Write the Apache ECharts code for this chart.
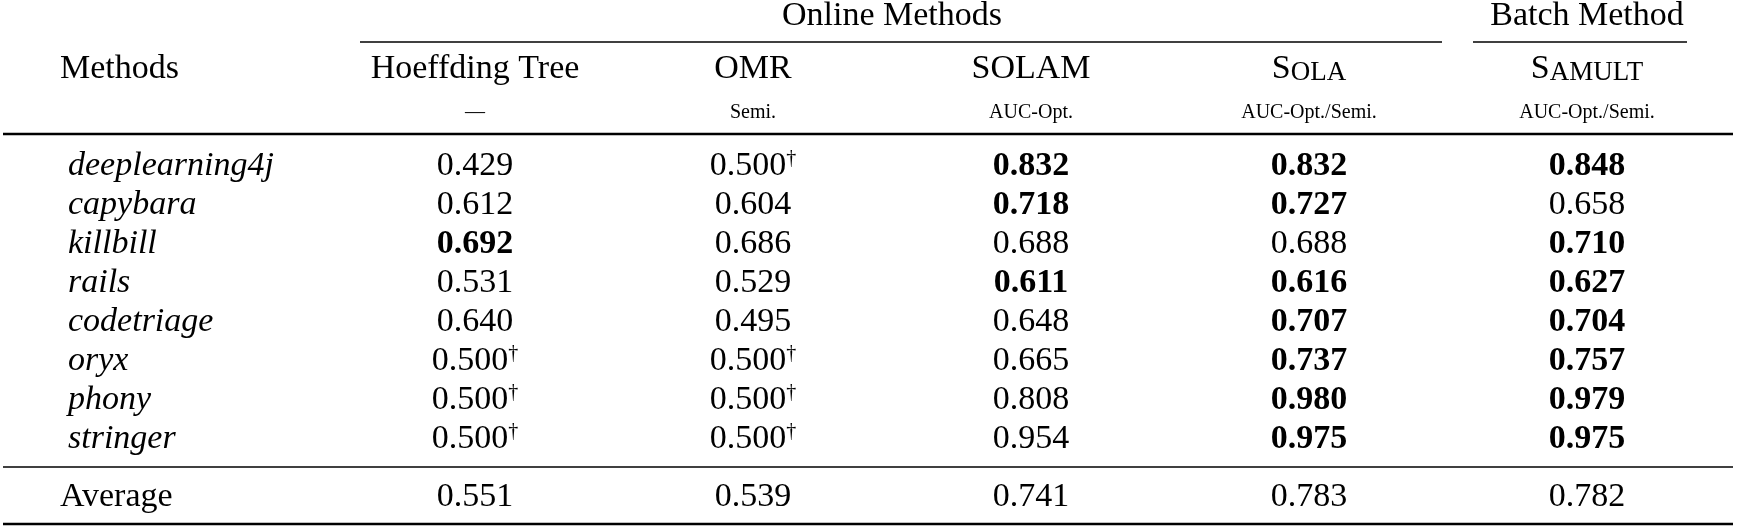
<!DOCTYPE html>
<html><head><meta charset="utf-8">
<script src="https://cdn.jsdelivr.net/npm/echarts@6.0.0/dist/echarts.min.js"></script>
<style>html,body{margin:0;padding:0;background:#fff}#c{width:1738px;height:528px}</style>
</head><body><div id="c"></div>
<script>
// ---- data ----
const datasets = ['deeplearning4j','capybara','killbill','rails','codetriage','oryx','phony','stringer'];
const methods = ['Hoeffding Tree','OMR','SOLAM','SOLA','SAMULT'];
const methodSmallCaps = [false,false,false,true,true];
const methodSub = ['\u2014','Semi.','AUC-Opt.','AUC-Opt./Semi.','AUC-Opt./Semi.'];
const groupLabels = ['Online Methods','Batch Method'];
const rowHeader = 'Methods';
const averageLabel = 'Average';

const hoeffding = [0.429,0.612,0.692,0.531,0.640,0.500,0.500,0.500];
const omr       = [0.500,0.604,0.686,0.529,0.495,0.500,0.500,0.500];
const solam     = [0.832,0.718,0.688,0.611,0.648,0.665,0.808,0.954];
const sola      = [0.832,0.727,0.688,0.616,0.707,0.737,0.980,0.975];
const samult    = [0.848,0.658,0.710,0.627,0.704,0.757,0.979,0.975];
const averages  = [0.551,0.539,0.741,0.783,0.782];

const boldHoeffding = [0,0,1,0,0,0,0,0];
const boldOmr       = [0,0,0,0,0,0,0,0];
const boldSolam     = [1,1,0,1,0,0,0,0];
const boldSola      = [1,1,0,1,1,1,1,1];
const boldSamult    = [1,0,1,1,1,1,1,1];
const daggerHoeffding = [0,0,0,0,0,1,1,1];
const daggerOmr       = [1,0,0,0,0,1,1,1];
const daggerNone      = [0,0,0,0,0,0,0,0];

// ---- build ----
const FONT = "'Liberation Serif','Times New Roman',serif";
const FS = 34;
const columns = [
  {vals: hoeffding, bold: boldHoeffding, dag: daggerHoeffding},
  {vals: omr, bold: boldOmr, dag: daggerOmr},
  {vals: solam, bold: boldSolam, dag: daggerNone},
  {vals: sola, bold: boldSola, dag: daggerNone},
  {vals: samult, bold: boldSamult, dag: daggerNone}
];
const cellRich = {
  n: {fontFamily: FONT, fontSize: FS, color: '#000'},
  b: {fontFamily: FONT, fontSize: FS, fontWeight: 'bold', color: '#000'},
  d: {fontFamily: FONT, fontSize: 20, color: '#000', verticalAlign: 'top'}
};
function cellText(v, bold, dag) {
  const s = v.toFixed(3);
  return '{' + (bold ? 'b' : 'n') + '|' + s + '}' + (dag ? '{d|\u2020}' : '');
}
const labelBase = {
  show: true, position: 'inside', color: '#000', opacity: 1,
  textBorderWidth: 0, textShadowBlur: 0
};
const series = [];
columns.forEach((col, ci) => {
  series.push({
    type: 'scatter', xAxisIndex: 0, yAxisIndex: 0,
    symbolSize: 1, itemStyle: {color: '#fff', opacity: 1},
    silent: true,
    data: datasets.map((d, ri) => [methods[ci], d, col.vals[ri]]),
    label: Object.assign({}, labelBase, {
      formatter: p => cellText(col.vals[p.dataIndex], col.bold[p.dataIndex], col.dag[p.dataIndex]),
      rich: cellRich
    })
  });
});
series.push({
  type: 'scatter', xAxisIndex: 2, yAxisIndex: 1,
  symbolSize: 1, itemStyle: {color: '#fff', opacity: 1},
  silent: true,
  data: methods.map((m, ci) => [m, averageLabel, averages[ci]]),
  label: Object.assign({}, labelBase, {
    formatter: p => cellText(averages[p.dataIndex], 0, 0),
    rich: cellRich
  })
});

const gridLeft = 336, gridWidth = 1390;
const option = {
  animation: false,
  backgroundColor: '#fff',
  grid: [
    {left: gridLeft, width: gridWidth, top: 146.5, height: 312, outerBoundsMode: 'none'},
    {left: gridLeft, width: gridWidth, top: 477.5, height: 39, outerBoundsMode: 'none'}
  ],
  xAxis: [
    {type: 'category', gridIndex: 0, data: methods, position: 'top',
     axisLine: {show: false}, axisTick: {show: false}, splitLine: {show: false},
     axisLabel: {interval: 0, margin: 77, verticalAlign: 'middle',
       formatter: (v, i) => methodSmallCaps[i] ? '{n|' + v[0] + '}{sc|' + v.slice(1) + '}' : '{n|' + v + '}',
       rich: {
         n: {fontFamily: FONT, fontSize: FS, color: '#000'},
         sc: {fontFamily: FONT, fontSize: 27, color: '#000', verticalAlign: 'bottom'}
       }}},
    {type: 'category', gridIndex: 0, data: methodSub, position: 'top',
     axisLine: {show: false}, axisTick: {show: false}, splitLine: {show: false},
     axisLabel: {interval: 0, margin: 34, verticalAlign: 'middle',
       fontFamily: FONT, fontSize: 20, color: '#000'}},
    {type: 'category', gridIndex: 1, data: methods,
     axisLine: {show: false}, axisTick: {show: false}, splitLine: {show: false},
     axisLabel: {show: false}}
  ],
  yAxis: [
    {type: 'category', gridIndex: 0, data: datasets, inverse: true,
     axisLine: {show: false}, axisTick: {show: false}, splitLine: {show: false},
     axisLabel: {interval: 0, align: 'left', margin: 268, fontFamily: FONT,
       fontStyle: 'italic', fontSize: FS, color: '#000'}},
    {type: 'category', gridIndex: 1, data: [averageLabel],
     axisLine: {show: false}, axisTick: {show: false}, splitLine: {show: false},
     axisLabel: {interval: 0, align: 'left', margin: 276, fontFamily: FONT,
       fontSize: FS, color: '#000'}}
  ],
  graphic: [
    {type: 'text', x: 60, y: 69, style: {text: rowHeader, font: FS + 'px ' + FONT, fill: '#000', align: 'left', verticalAlign: 'middle'}},
    {type: 'text', x: 892, y: 16, style: {text: groupLabels[0], font: FS + 'px ' + FONT, fill: '#000', align: 'center', verticalAlign: 'middle'}},
    {type: 'text', x: 1587, y: 16, style: {text: groupLabels[1], font: FS + 'px ' + FONT, fill: '#000', align: 'center', verticalAlign: 'middle'}},
    {type: 'line', shape: {x1: 360, y1: 42, x2: 1442, y2: 42}, style: {stroke: '#000', lineWidth: 1.5}},
    {type: 'line', shape: {x1: 1473, y1: 42, x2: 1687, y2: 42}, style: {stroke: '#000', lineWidth: 1.5}},
    {type: 'line', shape: {x1: 3, y1: 134, x2: 1733, y2: 134}, style: {stroke: '#000', lineWidth: 2.6}},
    {type: 'line', shape: {x1: 3, y1: 467, x2: 1733, y2: 467}, style: {stroke: '#000', lineWidth: 1.5}},
    {type: 'line', shape: {x1: 3, y1: 524, x2: 1733, y2: 524}, style: {stroke: '#000', lineWidth: 2.6}}
  ],
  series: series
};
const chart = echarts.init(document.getElementById('c'), null, {renderer: 'canvas'});
chart.setOption(option);
</script>
</body></html>
